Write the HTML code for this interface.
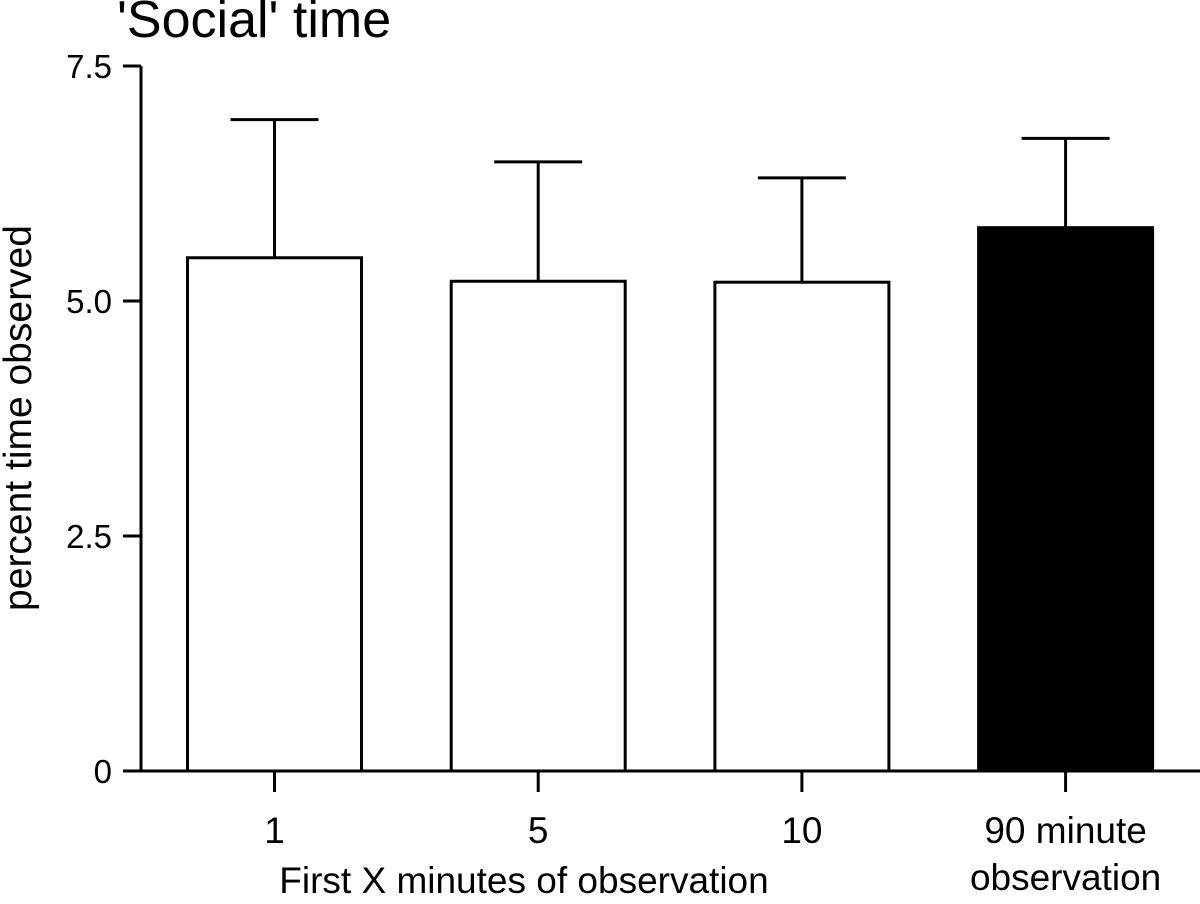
<!DOCTYPE html>
<html><head><meta charset="utf-8"><style>
html,body{margin:0;padding:0;background:#fff;}
svg{display:block;font-family:"Liberation Sans",Arial,sans-serif;}
</style></head><body>
<svg id="chart" width="1200" height="904" viewBox="0 0 1200 904">
<text x="117" y="37" font-size="52">'Social' time</text>
<text transform="translate(31,418) rotate(-90)" font-size="39" text-anchor="middle">percent time observed</text>
<text x="524" y="893" font-size="37" text-anchor="middle">First X minutes of observation</text>
<g id="bars"></g>
<g id="axes"></g>
</svg>
<script>
const categories = ["1", "5", "10", "90 minute|observation"];
const means = [5.46, 5.21, 5.20, 5.78];
const errors = [1.47, 1.27, 1.11, 0.95];
const fills = ["#fff", "#fff", "#fff", "#000"];
const yTicks = [0, 2.5, 5.0, 7.5];
const yTickLabels = ["0", "2.5", "5.0", "7.5"];

const NS = "http://www.w3.org/2000/svg";
const y0 = 771, pxPerUnit = 94;
function yScale(v){ return y0 - v * pxPerUnit; }
const xLeft = 141, slot = 263.7, firstCenter = 274.5;
function xScale(i){ return firstCenter + i * slot; }
const barW = 174, capW = 88;

function mk(tag, attrs, parent){
  const el = document.createElementNS(NS, tag);
  for (const k in attrs) el.setAttribute(k, attrs[k]);
  parent.appendChild(el);
  return el;
}
const barsG = document.getElementById("bars");
const axesG = document.getElementById("axes");

means.forEach((m, i) => {
  const cx = xScale(i);
  const top = yScale(m + errors[i]);
  const el1 = mk("line", {x1: cx, x2: cx, y1: top, y2: yScale(m), stroke: "#000", "stroke-width": 3}, barsG);
  
  
  const el2 = mk("line", {x1: cx - capW/2, x2: cx + capW/2, y1: top, y2: top, stroke: "#000", "stroke-width": 3}, barsG);
  
  
  const r = mk("rect", {x: cx - barW/2, y: yScale(m), width: barW, height: y0 - yScale(m), fill: fills[i], stroke: "#000", "stroke-width": 3}, barsG);
  
  
  const tk = mk("line", {x1: cx, x2: cx, y1: y0, y2: y0 + 21, stroke: "#000", "stroke-width": 3}, axesG);
  
  
  const parts = categories[i].split("|");
  parts.forEach((p, j) => {
    const t = mk("text", {x: cx, y: 843 + j * 47, "font-size": 37, "text-anchor": "middle"}, axesG);
    t.textContent = p;
    
    
  });
});

const yAx = mk("line", {x1: xLeft, x2: xLeft, y1: yScale(7.5), y2: y0 + 1.5, stroke: "#000", "stroke-width": 3}, axesG);


const xAx = mk("line", {x1: 123, x2: 1200, y1: y0, y2: y0, stroke: "#000", "stroke-width": 3}, axesG);



yTicks.forEach((v, i) => {
  const y = yScale(v);
  const tk = mk("line", {x1: 123, x2: xLeft, y1: y, y2: y, stroke: "#000", "stroke-width": 3}, axesG);
  
  
  const t = mk("text", {x: 112, y: y + 12, "font-size": 33, "text-anchor": "end"}, axesG);
  t.textContent = yTickLabels[i];
  
  
});
</script>
</body></html>
